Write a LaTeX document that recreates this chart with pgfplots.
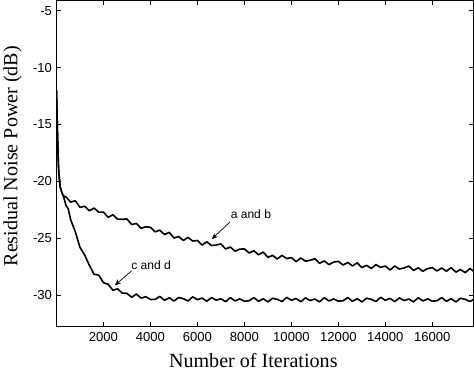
\documentclass[border=0pt]{standalone}
\usepackage{pgfplots}
\pgfplotsset{compat=1.18}
\usepackage{fontspec}
\setmainfont{Liberation Serif}
\newfontfamily\arialf{Liberation Sans}
\usetikzlibrary{arrows.meta}
\begin{document}
\begin{tikzpicture}
\begin{axis}[
  scale only axis,
  width=415pt, height=324pt,
  xmin=0, xmax=17750, ymin=-32.73, ymax=-4.09,
  xtick={2000,4000,6000,8000,10000,12000,14000,16000},
  ytick={-30,-25,-20,-15,-10,-5},
  scaled x ticks=false,
  tick align=inside,
  major tick length=4pt,
  axis line style={line width=1.1pt},
  every tick/.style={black, line width=0.8pt},
  /pgf/number format/assume math mode=true,
  /pgf/number format/1000 sep={},
  tick label style={font=\arialf\fontsize{13}{13}\selectfont},
  x tick label style={yshift=-2.5pt},
  y tick label style={xshift=-1pt},
  every axis x label/.style={at={(axis description cs:0.472,-0.1265)}, anchor=base},
  every axis y label/.style={at={(axis description cs:-0.094,0.522)}, rotate=90, anchor=base},
  label style={font=\fontsize{20}{20}\selectfont},
  xlabel={Number of Iterations},
  ylabel={Residual Noise Power (dB)},
]
% curves a and b
\addplot[black, line width=1.6pt, line join=round] coordinates {
(0,-12.0) (20,-13.6) (40,-15.6) (60,-17.1) (80,-18.4) (100,-19.3) (130,-19.9) (160,-20.5) (200,-20.8) (250,-21.1) (300,-21.3)
(400,-21.35) (600,-21.82) (800,-21.70) (1000,-22.28) (1200,-22.19) (1400,-22.58) (1600,-22.35) (1800,-22.71) (2000,-22.70)
(2200,-23.16) (2400,-22.94) (2600,-23.32) (2800,-23.34) (3000,-23.30) (3200,-23.80) (3400,-23.70) (3600,-24.12) (3800,-24.00)
(4000,-24.04) (4200,-24.44) (4400,-24.29) (4600,-24.68) (4800,-24.48) (5000,-24.98) (5200,-24.85) (5400,-25.20) (5600,-24.93)
(5800,-25.25) (6000,-25.20) (6200,-25.60) (6400,-25.32) (6600,-25.64) (6800,-25.60) (7000,-25.50) (7200,-25.94) (7400,-25.78)
(7600,-26.14) (7800,-25.96) (8000,-25.94) (8200,-26.30) (8400,-26.11) (8600,-26.46) (8800,-26.22) (9000,-26.68) (9200,-26.51)
(9400,-26.82) (9600,-26.51) (9800,-26.79) (10000,-26.70) (10200,-27.06) (10400,-26.74) (10600,-27.02) (10800,-26.94) (11000,-26.80)
(11200,-27.20) (11400,-27.00) (11600,-27.32) (11800,-27.10) (12000,-27.04) (12200,-27.36) (12400,-27.13) (12600,-27.44) (12800,-27.16)
(13000,-27.58) (13200,-27.38) (13400,-27.66) (13600,-27.32) (13800,-27.57) (14000,-27.45) (14200,-27.79) (14400,-27.45) (14600,-27.71)
(14800,-27.61) (15000,-27.45) (15200,-27.83) (15400,-27.61) (15600,-27.91) (15800,-27.67) (16000,-27.59) (16200,-27.88) (16400,-27.62)
(16600,-27.90) (16800,-27.59) (17000,-27.98) (17200,-27.76) (17400,-28.03) (17600,-27.67) (17750,-27.90)
};
% curves c and d
\addplot[black, line width=1.6pt, line join=round] coordinates {
(0,-12.0) (20,-13.6) (40,-15.6) (60,-17.1) (80,-18.4) (100,-19.3) (130,-19.9) (160,-20.5) (200,-20.8) (250,-21.1) (300,-21.3)
(400,-22.10) (500,-22.42) (600,-23.35) (800,-24.42) (1000,-25.80) (1200,-26.48) (1400,-27.38) (1600,-28.17) (1800,-28.25)
(2000,-28.91) (2200,-29.05) (2400,-29.58) (2600,-29.45) (2800,-29.83) (3000,-29.85) (3200,-30.20) (3400,-29.91) (3600,-30.27)
(3800,-30.14) (4000,-30.39) (4200,-30.38) (4400,-30.12) (4600,-30.46) (4800,-30.24) (5000,-30.53) (5200,-30.22) (5400,-30.32)
(5600,-30.52) (5800,-30.15) (6000,-30.41) (6200,-30.26) (6400,-30.54) (6600,-30.22) (6800,-30.45) (7000,-30.33) (7200,-30.58)
(7400,-30.22) (7600,-30.51) (7800,-30.34) (8000,-30.54) (8200,-30.50) (8400,-30.22) (8600,-30.55) (8800,-30.32) (9000,-30.60)
(9200,-30.28) (9400,-30.38) (9600,-30.57) (9800,-30.20) (10000,-30.46) (10200,-30.30) (10400,-30.58) (10600,-30.25) (10800,-30.48)
(11000,-30.35) (11200,-30.60) (11400,-30.23) (11600,-30.52) (11800,-30.34) (12000,-30.54) (12200,-30.50) (12400,-30.22) (12600,-30.55)
(12800,-30.32) (13000,-30.60) (13200,-30.28) (13400,-30.38) (13600,-30.57) (13800,-30.20) (14000,-30.46) (14200,-30.30) (14400,-30.58)
(14600,-30.25) (14800,-30.48) (15000,-30.35) (15200,-30.60) (15400,-30.23) (15600,-30.52) (15800,-30.34) (16000,-30.54) (16200,-30.50)
(16400,-30.22) (16600,-30.55) (16800,-30.32) (17000,-30.60) (17200,-30.28) (17400,-30.38) (17600,-30.57) (17750,-30.40)
};
\draw[-{Stealth[length=6pt,width=5pt]}, line width=0.7pt] (axis cs:7380,-23.58) -- (axis cs:6611,-25.08);
\node[font=\arialf\fontsize{12}{12}\selectfont] at (axis cs:8276,-22.87) {a and b};
\draw[-{Stealth[length=6pt,width=5pt]}, line width=0.7pt] (axis cs:3197,-27.87) -- (axis cs:2484,-29.14);
\node[font=\arialf\fontsize{12}{12}\selectfont] at (axis cs:4029,-27.37) {c and d};
\end{axis}
\end{tikzpicture}
\end{document}
